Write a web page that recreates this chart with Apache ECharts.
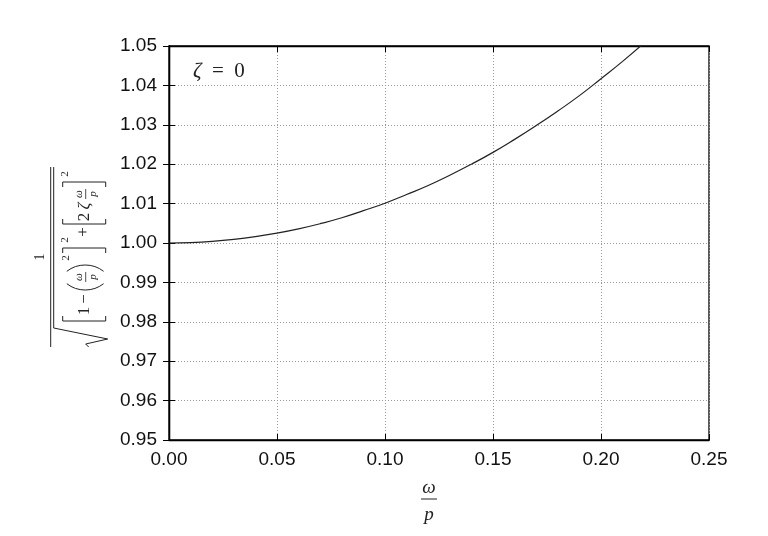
<!DOCTYPE html>
<html>
<head>
<meta charset="utf-8">
<script src="https://cdn.jsdelivr.net/npm/echarts@6/dist/echarts.min.js"></script>
<style>
  html, body { margin: 0; padding: 0; background: #fff; }
  #chart { width: 768px; height: 536px; }
</style>
</head>
<body>
<div id="chart"></div>
<script>
// values (zeta = 0 curve)
const ratio = [0.00, 0.01, 0.02, 0.03, 0.04, 0.05, 0.06, 0.07, 0.08, 0.09, 0.10, 0.11,
               0.12, 0.13, 0.14, 0.15, 0.16, 0.17, 0.18, 0.19, 0.20, 0.21, 0.22]
const amplitude = [1.0000, 1.0001, 1.0004, 1.0009, 1.0016, 1.0025, 1.0036, 1.0049, 1.0064,
                   1.0082, 1.0101, 1.0123, 1.0146, 1.0172, 1.0200, 1.0230, 1.0263, 1.0298,
                   1.0335, 1.0374, 1.0417, 1.0461, 1.0508]
const xTicks = [0, 0.25, 0.05]      // min, max, step
const yTicks = [0.95, 1.05, 0.01]
const zetaLabel = 'ζ'

const serif = '"Liberation Serif", "DejaVu Serif", serif'
const sans = '"Liberation Sans", Arial, sans-serif'
const ink = '#222'

function txt (x, y, s, size, italic) {
  return {
    type: 'text', x: x, y: y,
    style: {
      text: s, fill: ink, align: 'center', verticalAlign: 'middle',
      font: (italic ? 'italic ' : '') + size + 'px ' + serif
    }
  }
}
function seg (x1, y1, x2, y2, w) {
  return { type: 'line', shape: { x1, y1, x2, y2 }, style: { stroke: ink, lineWidth: w || 1 } }
}
function poly (pts) {
  return { type: 'polyline', shape: { points: pts }, style: { stroke: ink, lineWidth: 1, fill: null } }
}
function arc (cx, cy, r, a0, a1) {
  return { type: 'arc', shape: { cx, cy, r, startAngle: a0, endAngle: a1, clockwise: true },
    style: { stroke: ink, lineWidth: 1, fill: null } }
}
// small stacked omega / p
function smallFrac (x) {
  return [txt(x, 28, 'ω', 11, true), seg(x - 5, 35, x + 5, 35, 0.8), txt(x, 42, 'p', 11, true)]
}

// y-axis name, laid out flat then turned a quarter turn
const yName = {
  type: 'group', x: 50.7, y: 257, rotation: Math.PI / 2,
  children: [
    seg(-90, 0, 90, 0),
    txt(0, -10, '1', 14),
    poly([[-90, 38], [-87, 35], [-82, 57], [-71, 3], [90, 3]]),
    poly([[-59, 12], [-64, 12], [-64, 55], [-59, 55]]),
    txt(-54, 34, '1', 17),
    txt(-42, 34, '−', 17),
    arc(-3, 34.5, 30, Math.PI - 0.66, Math.PI + 0.66),
    ...smallFrac(-20),
    arc(-38, 34.5, 30, -0.66, 0.66),
    txt(-1, 15, '2', 11),
    poly([[4, 12], [9, 12], [9, 55], [4, 55]]),
    txt(17, 14, '2', 11),
    txt(25, 33, '+', 17),
    poly([[38, 12], [33, 12], [33, 55], [38, 55]]),
    txt(40, 34, '2', 17),
    txt(51, 34, zetaLabel, 17, true),
    ...smallFrac(63),
    poly([[70, 12], [75, 12], [75, 55], [70, 55]]),
    txt(83, 14, '2', 11)
  ]
}

// x-axis name omega over p
const xName = {
  type: 'group', x: 429, y: 0,
  children: [
    txt(0, 488, 'ω', 19, true),
    seg(-8, 499, 8, 499),
    txt(0, 515, 'p', 19, true)
  ]
}

const zetaNote = {
  type: 'text', x: 193, y: 71,
  style: {
    text: '{i|' + zetaLabel + '}\u2002=\u20020', fill: ink, verticalAlign: 'middle',
    font: '21px ' + serif,
    rich: { i: { fontStyle: 'italic', fontSize: 21, fontFamily: serif, fill: ink } }
  }
}

const tickFmt = v => v.toFixed(2)
const labelStyle = { fontFamily: sans, fontSize: 19, color: '#111', formatter: tickFmt }
const dotted = { show: true, lineStyle: { color: '#9a9a9a', type: [1, 2], width: 1 } }
const tickIn = { show: true, inside: true, length: 6, lineStyle: { color: '#000', width: 1 } }
const blackLine = { show: true, lineStyle: { color: '#000', width: 1.3 } }

const chart = echarts.init(document.getElementById('chart'))
chart.setOption({
  animation: false,
  backgroundColor: '#fff',
  grid: { left: 169, right: 59, top: 46, bottom: 96, show: true, borderColor: '#000', borderWidth: 1.3 },
  xAxis: [
    { type: 'value', min: xTicks[0], max: xTicks[1], interval: xTicks[2],
      axisLine: blackLine, axisTick: tickIn, splitLine: dotted,
      axisLabel: Object.assign({ margin: 10 }, labelStyle) },
    { type: 'value', position: 'top', min: xTicks[0], max: xTicks[1], interval: xTicks[2],
      axisLine: blackLine, axisTick: tickIn, splitLine: { show: false }, axisLabel: { show: false } }
  ],
  yAxis: [
    { type: 'value', min: yTicks[0], max: yTicks[1], interval: yTicks[2],
      axisLine: blackLine, axisTick: tickIn, splitLine: dotted,
      axisLabel: Object.assign({ margin: 12 }, labelStyle) },
    { type: 'value', position: 'right', min: yTicks[0], max: yTicks[1], interval: yTicks[2],
      axisLine: blackLine, axisTick: tickIn, splitLine: { show: false }, axisLabel: { show: false } }
  ],
  series: [{
    type: 'line',
    data: ratio.map((r, i) => [r, amplitude[i]]),
    showSymbol: false,
    smooth: true,
    clip: true,
    lineStyle: { color: ink, width: 1.2 }
  }],
  graphic: [yName, xName, zetaNote]
})
</script>
</body>
</html>
